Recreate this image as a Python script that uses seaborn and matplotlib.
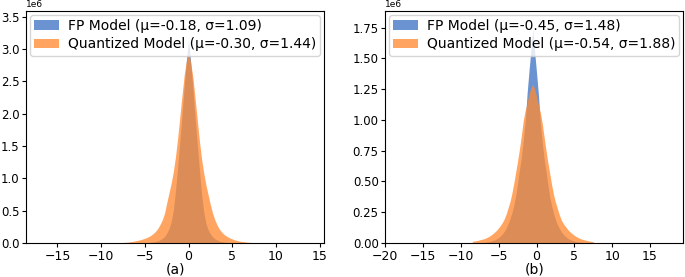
import numpy as np
import pandas as pd
import matplotlib
matplotlib.use("Agg")
import matplotlib.pyplot as plt
import seaborn as sns

# histogram bin centers (bin width 0.25)
bin_width = 0.25
centers_a = np.arange(-8.0, 8.001, bin_width)
centers_b = np.arange(-8.5, 7.501, bin_width)

# counts in units of 1e6
fp_a = [0.0004, 0.0005, 0.0006, 0.0007, 0.0009, 0.0011, 0.0014, 0.0018,
        0.0022, 0.0028, 0.0034, 0.0043, 0.0055, 0.0072, 0.0095, 0.013,
        0.018, 0.026, 0.036, 0.05, 0.072, 0.10, 0.15, 0.22,
        0.32, 0.50, 0.80, 1.17, 1.57, 1.97, 2.42, 2.82,
        3.15,
        2.78, 2.38, 1.93, 1.52, 1.12, 0.74, 0.47, 0.30,
        0.20, 0.14, 0.095, 0.066, 0.047, 0.033, 0.024, 0.017,
        0.012, 0.0085, 0.0063, 0.0047, 0.0036, 0.0028, 0.0022, 0.0018,
        0.0014, 0.0011, 0.0009, 0.0007, 0.0006, 0.0005, 0.0004, 0.0003]
q_a = [0.006, 0.007, 0.009, 0.011, 0.014, 0.018, 0.023, 0.029,
       0.036, 0.043, 0.052, 0.062, 0.073, 0.087, 0.103, 0.125,
       0.152, 0.185, 0.23, 0.29, 0.36, 0.46, 0.62, 0.77,
       0.92, 1.10, 1.33, 1.62, 1.95, 2.28, 2.60, 2.82,
       2.95,
       2.78, 2.56, 2.23, 1.90, 1.57, 1.29, 1.07, 0.89,
       0.74, 0.59, 0.46, 0.36, 0.28, 0.22, 0.175, 0.14,
       0.115, 0.093, 0.077, 0.063, 0.05, 0.04, 0.032, 0.026,
       0.021, 0.017, 0.013, 0.010, 0.008, 0.006, 0.005, 0.004]
fp_b = [0.0013, 0.0017, 0.0022, 0.0028, 0.0035, 0.0044, 0.0056, 0.0072,
        0.0093, 0.012, 0.016, 0.021, 0.027, 0.035, 0.046, 0.06,
        0.076, 0.097, 0.125, 0.16, 0.20, 0.25, 0.31, 0.39,
        0.49, 0.60, 0.70, 0.84, 0.99, 1.22, 1.40, 1.57,
        1.74,
        1.55, 1.38, 1.20, 0.97, 0.82, 0.68, 0.58, 0.47,
        0.37, 0.30, 0.24, 0.19, 0.15, 0.12, 0.093, 0.073,
        0.057, 0.044, 0.033, 0.026, 0.02, 0.015, 0.011, 0.0085,
        0.0066, 0.0052, 0.004, 0.0032, 0.0025, 0.002, 0.0015, 0.0011]
q_b = [0.013, 0.016, 0.019, 0.022, 0.026, 0.03, 0.034, 0.04,
       0.047, 0.056, 0.066, 0.078, 0.091, 0.106, 0.126, 0.146,
       0.17, 0.20, 0.24, 0.29, 0.34, 0.41, 0.49, 0.58,
       0.67, 0.77, 0.88, 1.00, 1.08, 1.14, 1.21, 1.26,
       1.29,
       1.25, 1.19, 1.12, 1.06, 0.97, 0.86, 0.75, 0.65,
       0.56, 0.47, 0.39, 0.33, 0.28, 0.23, 0.19, 0.16,
       0.14, 0.12, 0.10, 0.086, 0.074, 0.062, 0.052, 0.044,
       0.037, 0.031, 0.027, 0.023, 0.019, 0.016, 0.013, 0.011]

labels_a = ["FP Model (μ=-0.18, σ=1.09)", "Quantized Model (μ=-0.30, σ=1.44)"]
labels_b = ["FP Model (μ=-0.45, σ=1.48)", "Quantized Model (μ=-0.54, σ=1.88)"]
xticks_a = [-15, -10, -5, 0, 5, 10, 15]
xticks_b = [-20, -15, -10, -5, 0, 5, 10, 15]

fp_color = "#3f73c4"
q_color = "#ff8a32"

fig = plt.figure(figsize=(6.85, 2.77), dpi=100)
ax_a = fig.add_axes([0.038, 0.1227, 0.435, 0.838])
ax_b = fig.add_axes([0.562, 0.1227, 0.4355, 0.838])

panels = [
    (ax_a, centers_a, fp_a, q_a, labels_a, xticks_a, (-18.6, 15.5), 3.59e6, "(a)"),
    (ax_b, centers_b, fp_b, q_b, labels_b, xticks_b, (-20.05, 19.4), 1.886e6, "(b)"),
]

for ax, centers, fp, q, labels, xticks, xlim, ytop, tag in panels:
    edges = list(np.append(centers - bin_width / 2, centers[-1] + bin_width / 2))
    df = pd.DataFrame({"x": centers,
                       "fp": np.array(fp) * 1e6,
                       "q": np.array(q) * 1e6})
    sns.histplot(data=df, x="x", weights="fp", bins=edges, ax=ax,
                 element="poly", color=fp_color, alpha=0.77, linewidth=0,
                 label=labels[0])
    sns.histplot(data=df, x="x", weights="q", bins=edges, ax=ax,
                 element="poly", color=q_color, alpha=0.77, linewidth=0,
                 label=labels[1])
    ax.set_xticks(xticks)
    ax.set_xlim(*xlim)
    ax.set_ylim(0, ytop)
    ax.set_ylabel("")
    ax.set_xlabel(tag, fontsize=10, labelpad=0)
    ax.tick_params(axis="x", labelsize=9, length=3, pad=2)
    ax.tick_params(axis="y", labelsize=8.5, length=3, pad=1.5)
    ax.legend(loc="upper center", fontsize=10, borderpad=0.3,
              handlelength=1.8, handletextpad=0.6, labelspacing=0.3,
              borderaxespad=0.3)
    ax.yaxis.get_offset_text().set_fontsize(6.5)

fig.savefig("out.png", dpi=100)
